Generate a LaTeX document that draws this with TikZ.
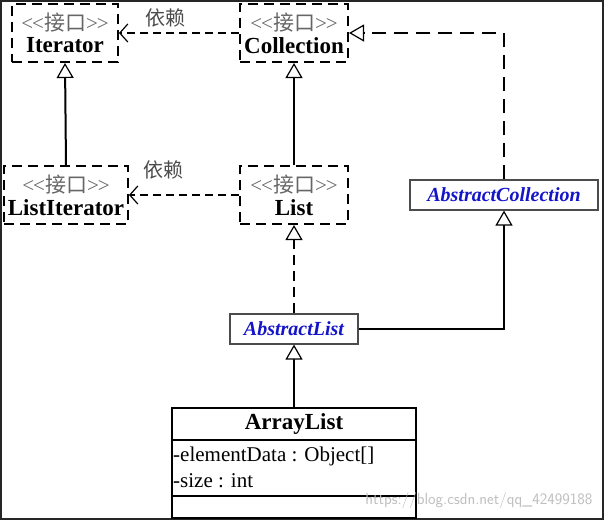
\documentclass[tikz,border=0pt]{standalone}
\usepackage{fontspec}
\setmainfont{Liberation Serif}[Ligatures=NoCommon]
\newfontfamily\cjk{Noto Sans CJK SC}
\usetikzlibrary{arrows.meta}
\definecolor{absblue}{RGB}{20,20,200}
\begin{document}
\begin{tikzpicture}[x=1pt,y=-1pt,
  iface/.style={draw,line width=2pt,dash pattern=on 10pt off 6pt,minimum height=58pt,inner sep=0pt,align=center},
  abs/.style={draw=black!70,line width=1.2pt,minimum height=30pt,inner sep=0pt,text=absblue,font=\fontsize{20}{24}\selectfont\bfseries\itshape},
  gen/.style={line width=2pt,-{Triangle[open,length=15pt,width=17pt,fill=white,line width=1.2pt]}},
  dep/.style={line width=1.5pt,dash pattern=on 8pt off 5pt,-{Straight Barb[length=8pt,width=18pt,line width=1.2pt]}},
  lbl/.style={text=black!70,font=\cjk\fontsize{20}{22}\selectfont}]
\useasboundingbox (0,0) rectangle (604,520);
\fill[white] (0,0) rectangle (604,520);
\draw[line width=2.5pt,black!85] (1,1) rectangle (603,519);
\newcommand\stereo{{\color{black!60}\fontsize{21}{24}\selectfont\textless\kern-1pt\textless{\cjk 接口}\textgreater\kern-1pt\textgreater}}
\newcommand\nm[1]{{\fontsize{23}{26}\selectfont\bfseries #1}}
\node[iface,minimum width=106pt] (it) at (65,33) {\stereo\\[4pt]\nm{Iterator}};
\node[iface,minimum width=108pt] (col) at (294,33) {\stereo\\[4pt]\nm{Collection}};
\node[iface,minimum width=124pt] (lit) at (66,195) {\stereo\\[4pt]\nm{ListIterator}};
\node[iface,minimum width=108pt] (lst) at (294,195) {\stereo\\[4pt]\nm{List}};
\node[abs,minimum width=188pt] (ac) at (504,195) {AbstractCollection};
\node[abs,minimum width=128pt] (al) at (294,329) {AbstractList};
\node[draw,line width=2pt,minimum width=244pt,minimum height=110pt,inner sep=0pt] (arr) at (294,463) {};
\draw[line width=2pt] (172,440) -- (416,440);
\draw[line width=2pt] (172,496) -- (416,496);
\node[font=\fontsize{23}{26}\selectfont\bfseries] (arrt) at (294,424) {ArrayList};
\node[anchor=west,inner sep=0pt,font=\fontsize{21}{24}\selectfont] (a1) at (173,456) {-elementData : Object[]};
\node[anchor=west,inner sep=0pt,font=\fontsize{21}{24}\selectfont] (a2) at (173,481) {-size : int};
\node[text=black!25,font=\sffamily\fontsize{16}{18}\selectfont,anchor=east] (wm) at (596,500) {https://blog.csdn.net/qq\_42499188};
\draw[dep] (col.west) -- (it.east);
\node[lbl] (d1) at (165,18) {依赖};
\draw[dep] (lst.west) -- (lit.east);
\node[lbl] (d2) at (163,170) {依赖};
\draw[gen] (lit.north) -- (it.south);
\draw[gen] (lst.north) -- (col.south);
\draw[gen,dash pattern=on 10pt off 6pt] (al.north) -- (lst.south);
\draw[gen,dash pattern=on 14pt off 8pt] (ac.north) |- (col.east);
\draw[gen] (al.east) -| (ac.south);
\draw[gen] (arr.north) -- (al.south);
\end{tikzpicture}
\end{document}
